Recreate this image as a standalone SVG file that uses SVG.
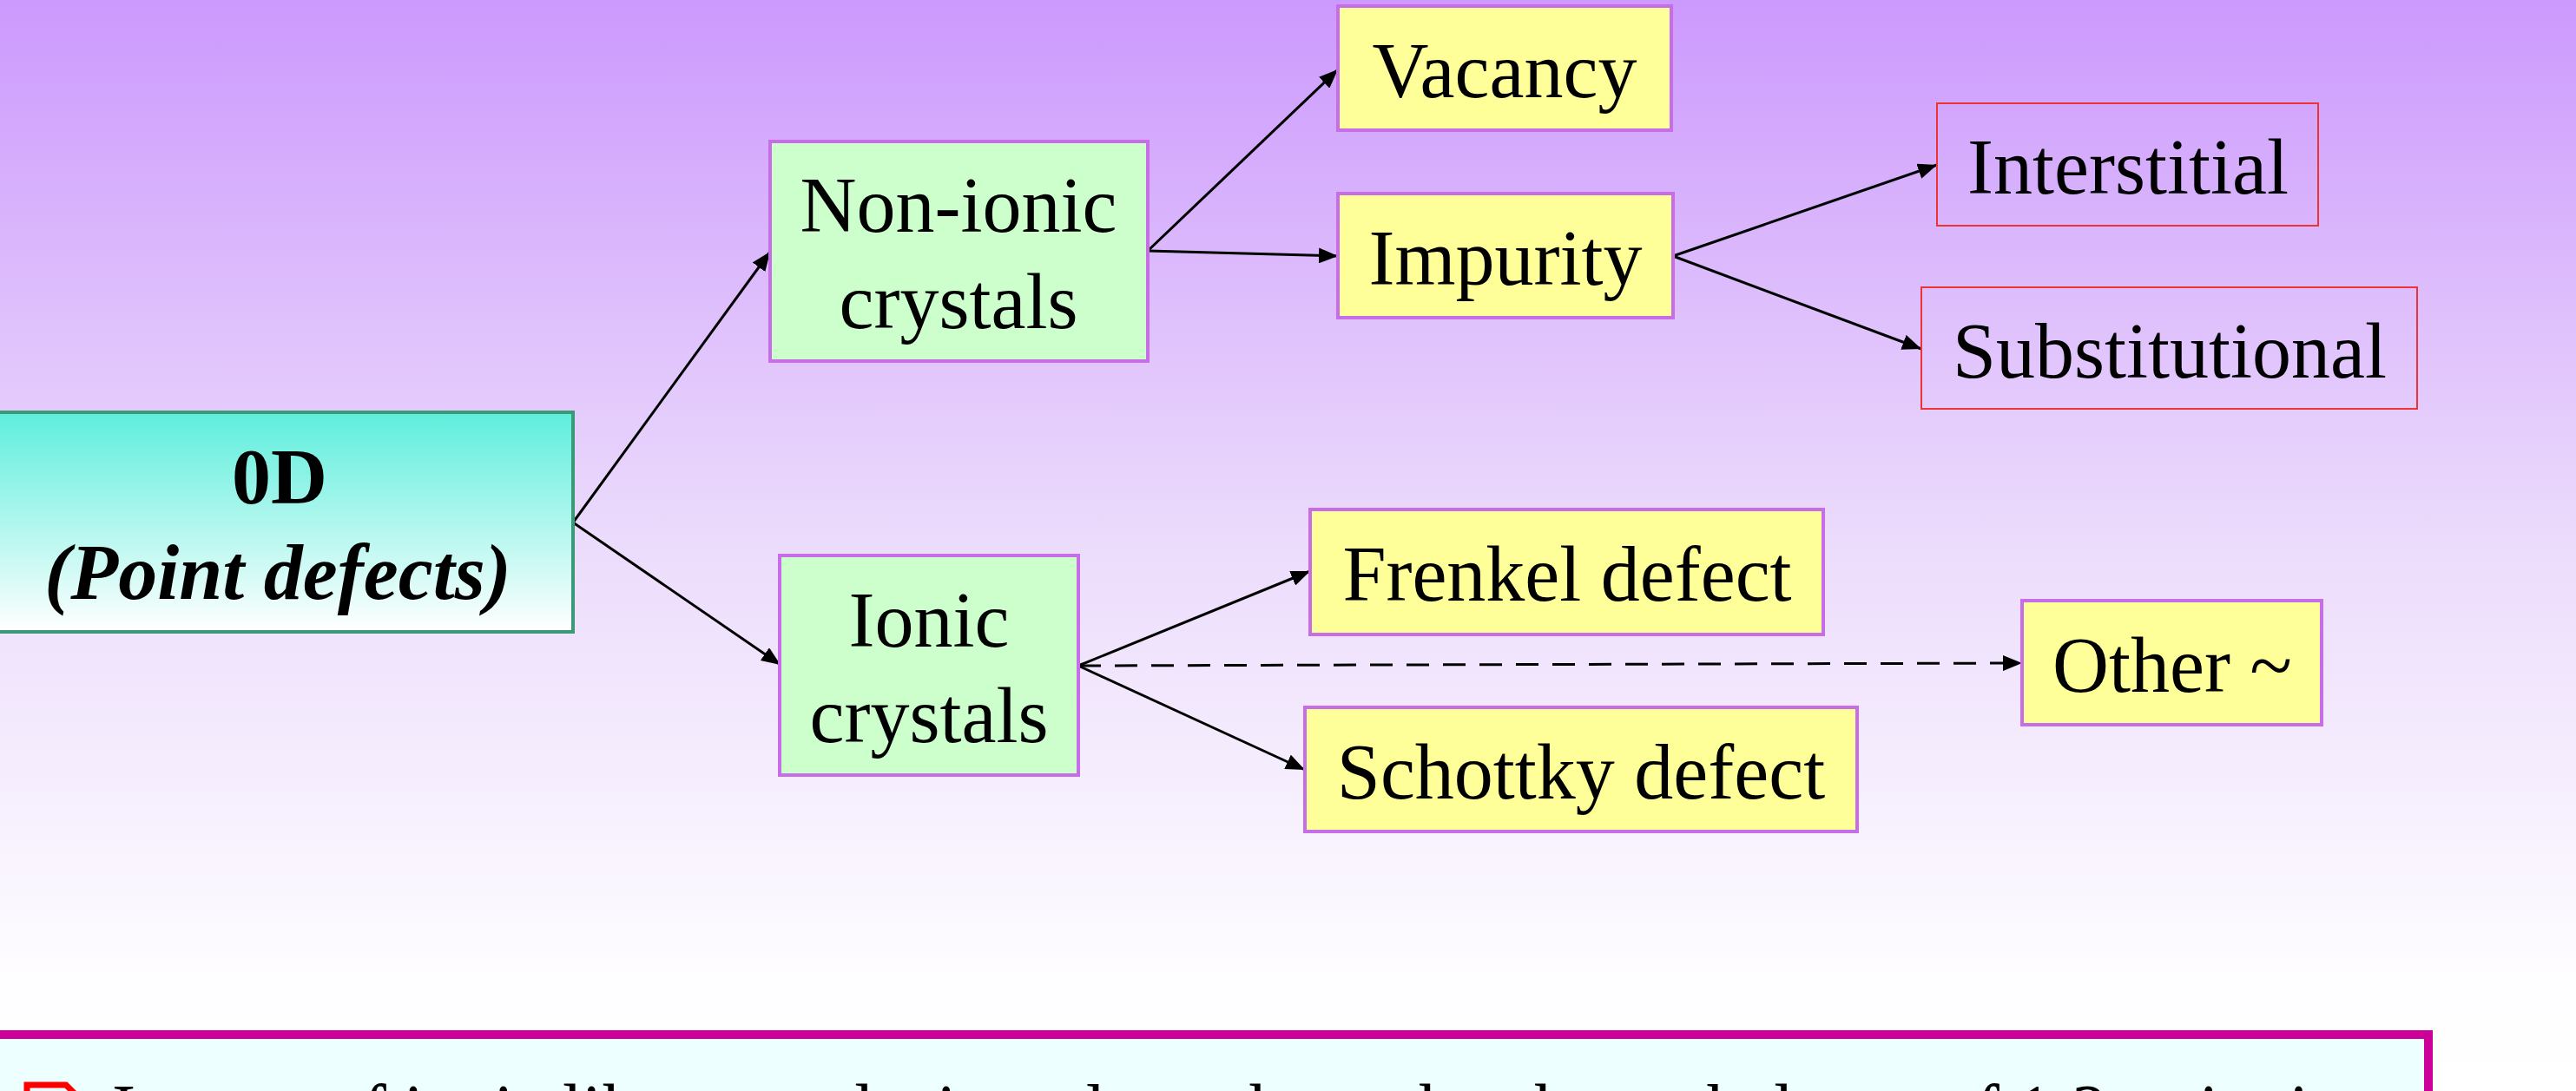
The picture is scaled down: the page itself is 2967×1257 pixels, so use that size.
<svg xmlns="http://www.w3.org/2000/svg" width="2967" height="1257" viewBox="0 0 2967 1257">
<defs>
<linearGradient id="bg" x1="0" y1="0" x2="0" y2="1257" gradientUnits="userSpaceOnUse">
<stop offset="0" stop-color="#cc99fd"/>
<stop offset="0.5" stop-color="#ecdcfc"/>
<stop offset="0.9" stop-color="#fefdff"/>
<stop offset="1" stop-color="#ffffff"/>
</linearGradient>
<linearGradient id="g0d" x1="0" y1="0" x2="0" y2="1">
<stop offset="0" stop-color="#5eeedc"/>
<stop offset="1" stop-color="#ffffff"/>
</linearGradient>
<marker id="ah" markerUnits="userSpaceOnUse" markerWidth="24" markerHeight="18" refX="22" refY="9" orient="auto">
<path d="M0,0 L22,9 L0,18 Z" fill="#000"/>
</marker>
<style>
.t{font-family:"Liberation Serif","Times New Roman",serif;font-size:90px;fill:#000;text-anchor:middle}
.y{fill:#ffff99;stroke:#c86de8;stroke-width:4}
.g{fill:#ccffcc;stroke:#c86de8;stroke-width:4}
.r{fill:none;stroke:#ee3333;stroke-width:2}
.c{fill:none;stroke:#000;stroke-width:3;marker-end:url(#ah)}
.n{font-family:"Liberation Serif","Times New Roman",serif;font-size:90px;fill:#000}
</style>
</defs>
<rect x="0" y="0" width="2967" height="1257" fill="url(#bg)"/>
<g id="connectors">
<line class="c" x1="660" y1="602" x2="887" y2="290"/>
<line class="c" x1="660" y1="602" x2="899" y2="766"/>
<line class="c" x1="1322" y1="289" x2="1541" y2="80"/>
<line class="c" x1="1322" y1="289" x2="1541" y2="295"/>
<line class="c" x1="1927" y1="295" x2="2231" y2="190"/>
<line class="c" x1="1927" y1="295" x2="2213" y2="402"/>
<line class="c" x1="1242" y1="767" x2="1509" y2="658"/>
<line class="c" x1="1242" y1="767" x2="1503" y2="887"/>
<line class="c" x1="1242" y1="767" x2="2329" y2="764" stroke-dasharray="26 16"/>
</g>
<g id="n0d">
<rect x="-10" y="475" width="670" height="253" fill="url(#g0d)" stroke="#3a9a78" stroke-width="4"/>
<text class="t" x="322" y="580" font-weight="bold">0D</text>
<text class="t" x="320" y="690" font-weight="bold" font-style="italic">(Point defects)</text>
</g>
<g id="nonionic">
<rect class="g" x="887" y="163" width="435" height="253"/>
<text class="t" x="1104" y="267">Non-ionic</text>
<text class="t" x="1104" y="378">crystals</text>
</g>
<g id="vacancy">
<rect class="y" x="1541" y="7" width="384" height="143"/>
<text class="t" x="1733" y="112">Vacancy</text>
</g>
<g id="impurity">
<rect class="y" x="1541" y="223" width="386" height="143"/>
<text class="t" x="1734" y="328">Impurity</text>
</g>
<g id="interstitial">
<rect class="r" x="2231" y="119" width="439" height="141"/>
<text class="t" x="2451" y="223">Interstitial</text>
</g>
<g id="substitutional">
<rect class="r" x="2213" y="331" width="571" height="140"/>
<text class="t" x="2499" y="435">Substitutional</text>
</g>
<g id="ionic">
<rect class="g" x="898" y="640" width="344" height="253"/>
<text class="t" x="1070" y="745">Ionic</text>
<text class="t" x="1070" y="855">crystals</text>
</g>
<g id="frenkel">
<rect class="y" x="1509" y="587" width="591" height="144"/>
<text class="t" x="1805" y="692">Frenkel defect</text>
</g>
<g id="schottky">
<rect class="y" x="1503" y="815" width="636" height="143"/>
<text class="t" x="1821" y="920">Schottky defect</text>
</g>
<g id="other">
<rect class="y" x="2329" y="692" width="345" height="143"/>
<text class="t" x="2502" y="797">Other ~</text>
</g>
<g id="note">
<rect x="-20" y="1192" width="2817" height="120" fill="#eeffff" stroke="#cc0099" stroke-width="10"/>
<path d="M31,1290 L31,1250 L76,1250 L88,1262 L88,1290" fill="none" stroke="#ff0000" stroke-width="7"/>
<text class="n" x="129" y="1312" textLength="2571" lengthAdjust="spacingAndGlyphs">In case of ionic like crystals, in order to keep the charge balance of 1:2 ratio, in</text>
</g>
</svg>
